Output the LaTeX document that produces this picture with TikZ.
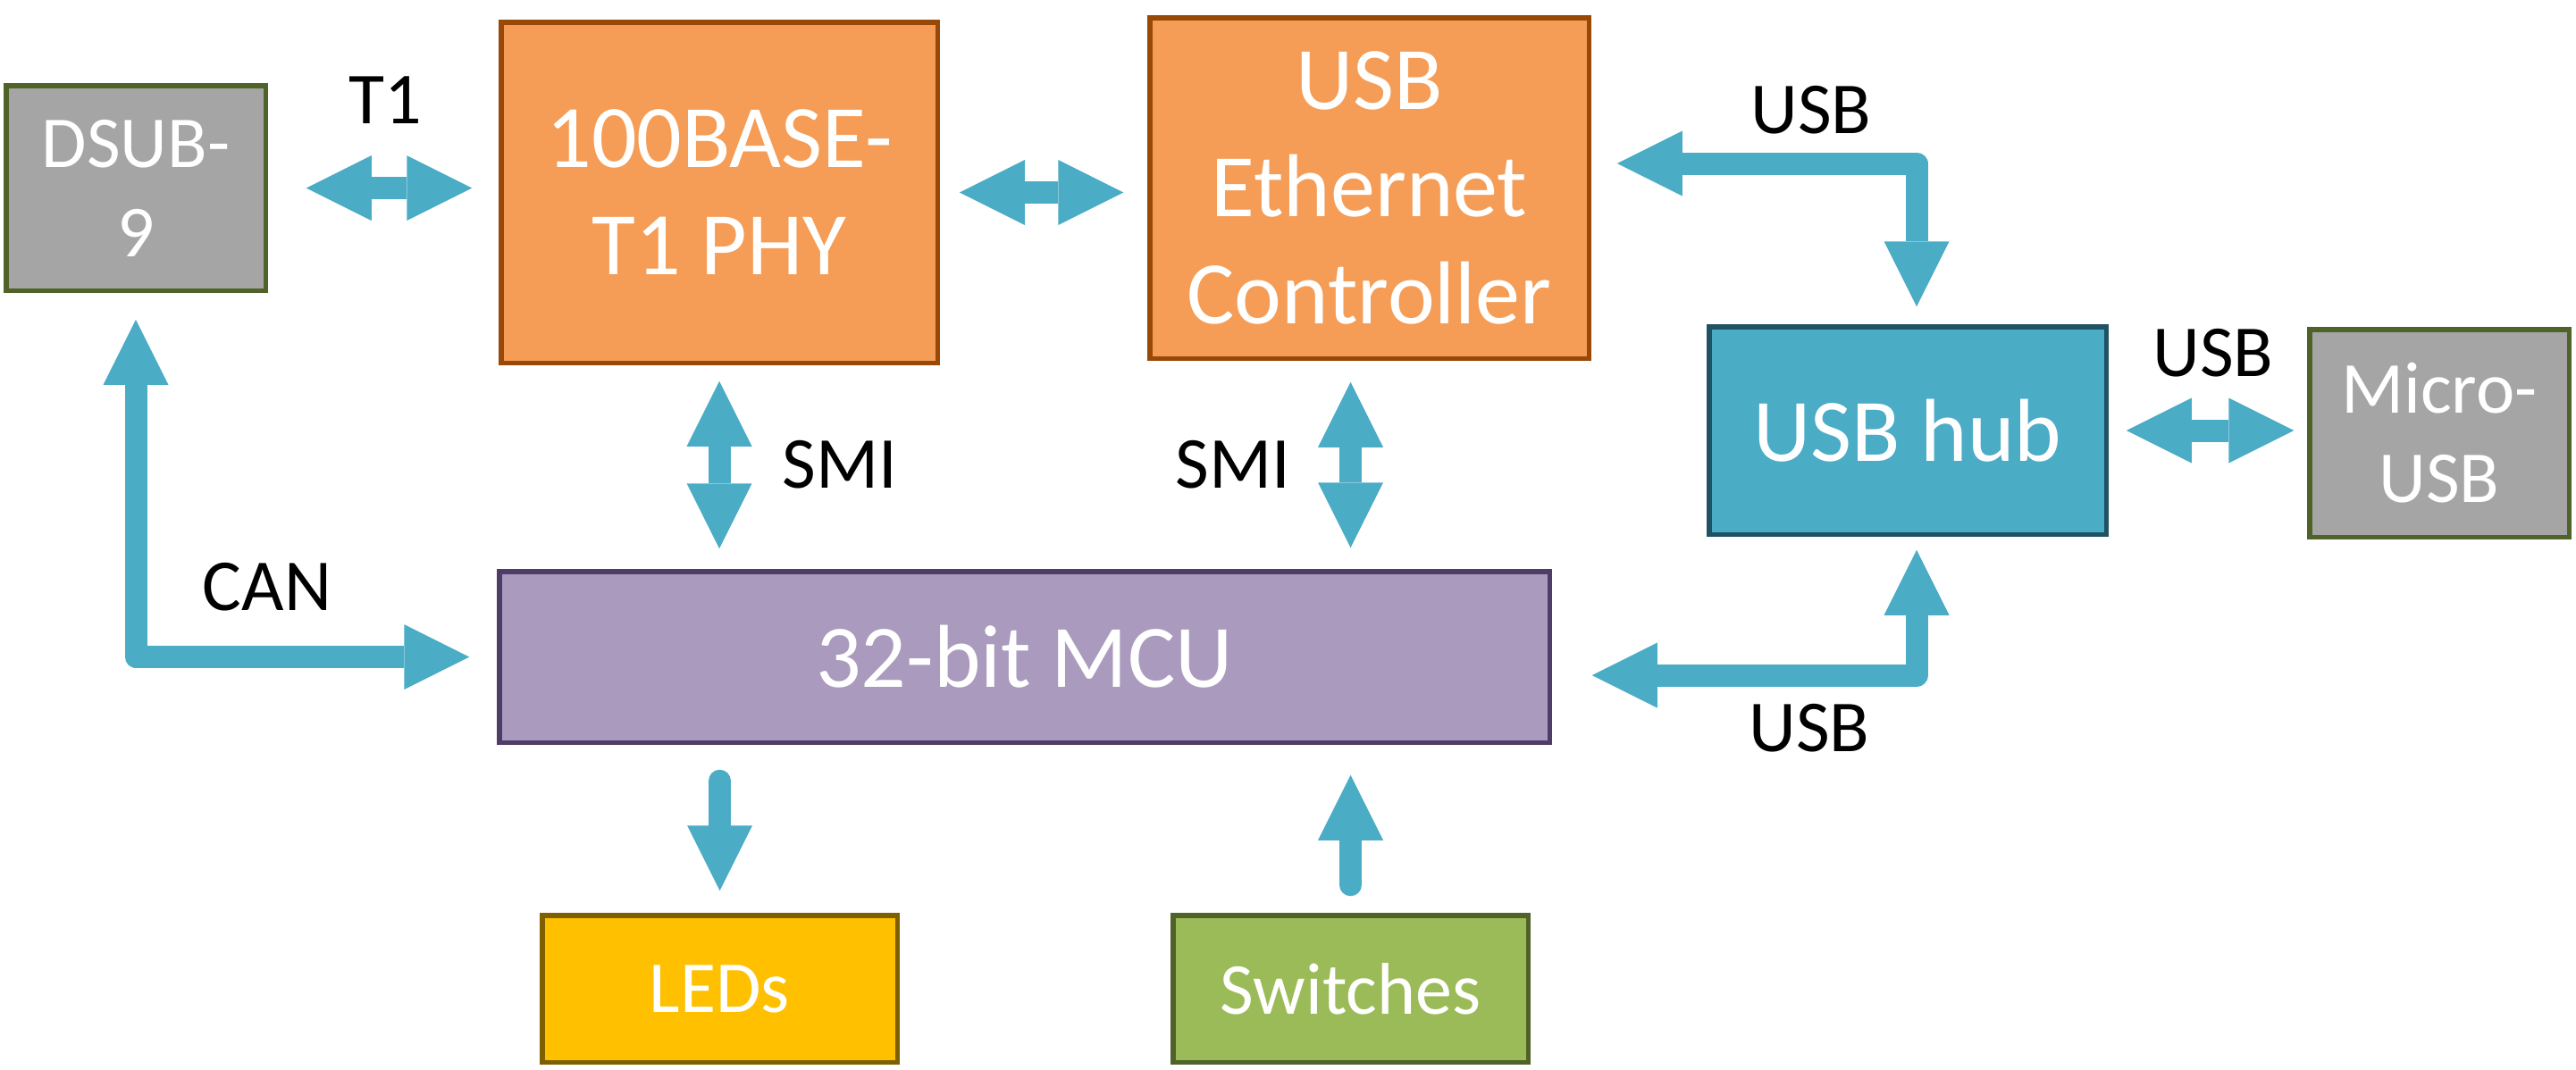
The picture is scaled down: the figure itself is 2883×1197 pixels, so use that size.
\documentclass[tikz,border=0pt]{standalone}
\usepackage{fontspec}
\setmainfont{Carlito}
\usetikzlibrary{arrows.meta,calc}
\definecolor{arr}{HTML}{4BACC6}
\definecolor{gfill}{HTML}{A5A5A5}
\definecolor{olive}{HTML}{4F6228}
\definecolor{ofill}{HTML}{F59D56}
\definecolor{obord}{HTML}{984807}
\definecolor{pfill}{HTML}{AA9ABE}
\definecolor{pbord}{HTML}{4E3D66}
\definecolor{tfill}{HTML}{4BACC6}
\definecolor{tbord}{HTML}{1F5263}
\definecolor{yfill}{HTML}{FFC000}
\definecolor{ybord}{HTML}{7F6000}
\definecolor{gnfill}{HTML}{9BBB59}
\tikzset{bigtip/.tip={Triangle[length=73pt,width=73pt,line width=0pt]}}
\begin{document}
\begin{tikzpicture}[x=1pt,y=-1pt,
  box/.style={draw, line width=5.5pt, inner sep=0pt, text=white, align=center},
  big/.style={font=\fontsize{100}{120}\selectfont},
  small/.style={font=\fontsize{82}{100}\selectfont},
  lab/.style={font=\fontsize{82}{100}\selectfont, anchor=base, inner sep=0pt, text=black},
  conn/.style={draw=arr, line width=25pt, line join=round}]
\useasboundingbox (0,0) rectangle (2883,1197);
% boxes
\node[box, small, fill=gfill, draw=olive, minimum width=290.5pt, minimum height=229.5pt] (dsub) at (152,210.5) {DSUB-\\9};
\node[box, big, fill=ofill, draw=obord, minimum width=488.5pt, minimum height=381.5pt] (phy) at (805,215.5) {100BASE-\\T1 PHY};
\node[box, big, fill=ofill, draw=obord, minimum width=491.5pt, minimum height=381.5pt] (eth) at (1532.5,210.5) {USB\\Ethernet\\Controller};
\node[box, big, fill=tfill, draw=tbord, minimum width=444.5pt, minimum height=232.5pt] (hub) at (2135,482) {USB hub};
\node[box, small, fill=gfill, draw=olive, minimum width=290.5pt, minimum height=232.5pt] (micro) at (2730,485) {Micro-\\USB};
\node[box, big, fill=pfill, draw=pbord, minimum width=1175.5pt, minimum height=191.5pt] (mcu) at (1146.5,735.5) {32-bit MCU};
\node[box, small, fill=yfill, draw=ybord, minimum width=397.5pt, minimum height=164.5pt] (leds) at (805.5,1107) {LEDs};
\node[box, small, fill=gnfill, draw=olive, minimum width=397.5pt, minimum height=164.5pt] (sw) at (1511.5,1107) {Switches};
% connectors
\draw[conn, bigtip-bigtip, shorten <=42.75pt, shorten >=29.75pt] (dsub.east) -- (dsub.east -| phy.west);
\draw[conn, bigtip-bigtip, shorten <=21.75pt, shorten >=26.75pt] (phy.east) -- (phy.east -| eth.west);
\draw[conn, bigtip-bigtip, shorten <=28.75pt, shorten >=19.75pt] ([yshift=27.5pt]eth.east) -| ([xshift=10pt]hub.north);
\draw[conn, bigtip-bigtip, shorten <=19.75pt, shorten >=14.75pt] (hub.east) -- (hub.east -| micro.west);
\draw[conn, bigtip-bigtip, shorten <=17.75pt, shorten >=22.75pt] (phy.south) -- (phy.south |- mcu.north);
\draw[conn, bigtip-bigtip, shorten <=23.75pt, shorten >=23.75pt] (eth.south -| sw.north) -- (mcu.north -| sw.north);
\draw[conn, bigtip-bigtip, shorten <=29.75pt, shorten >=30.75pt] (dsub.south) |- (mcu.west);
\draw[conn, bigtip-bigtip, shorten <=44.75pt, shorten >=14.75pt] ([yshift=-20.5pt]mcu.east) -| ([xshift=10pt]hub.south);
\draw[conn, line cap=round, -bigtip, shorten <=40.25pt, shorten >=24.75pt] (mcu.south -| leds.north) -- (leds.north);
\draw[conn, line cap=round, -bigtip, shorten <=31.25pt, shorten >=33.75pt] (sw.north) -- (sw.north |- mcu.south);
% labels
\node[lab] (lt1) at (431,138) {T1};
\node[lab] (lusb1) at (2027,149) {USB};
\node[lab] (lusb2) at (2477,421) {USB};
\node[lab] (lsmi1) at (940,546) {SMI};
\node[lab] (lsmi2) at (1380,546) {SMI};
\node[lab] (lcan) at (299,683) {CAN};
\node[lab] (lusb3) at (2025,841) {USB};
\end{tikzpicture}
\end{document}
